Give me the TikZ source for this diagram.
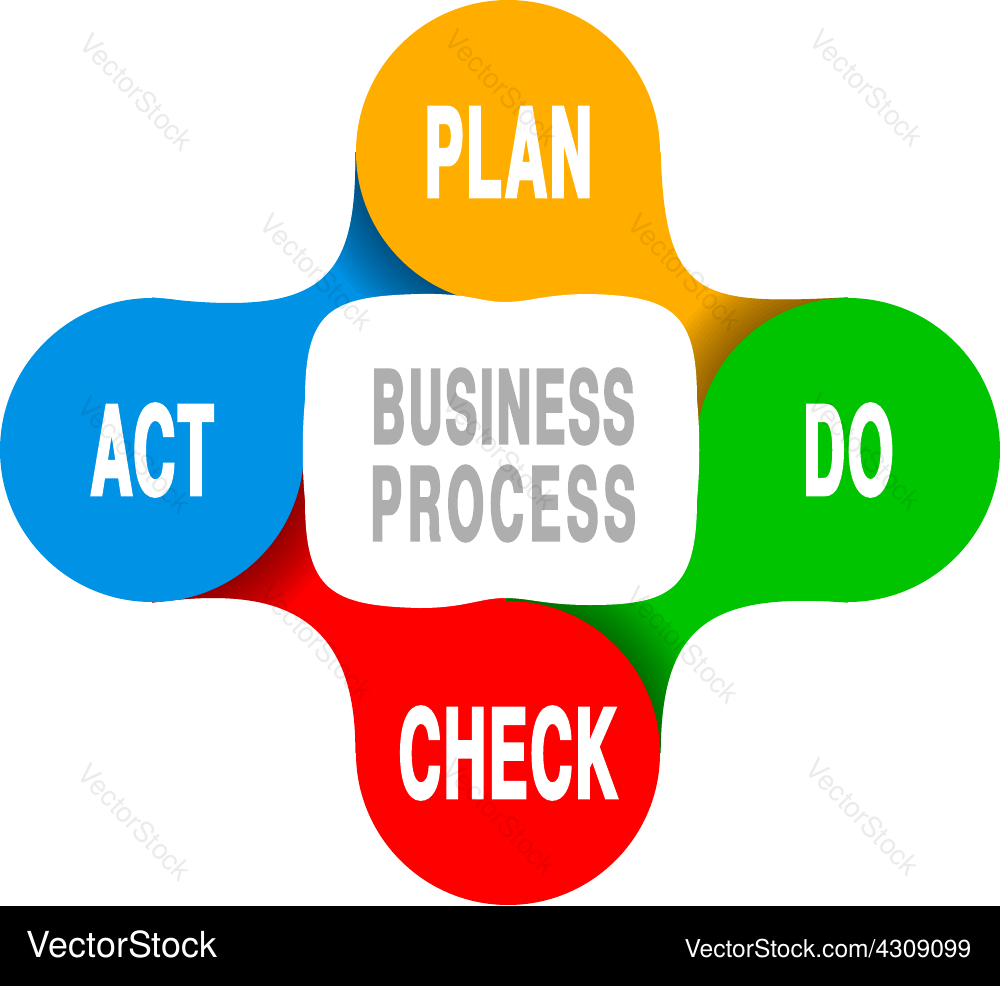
\documentclass[tikz,border=0pt]{standalone}
\usepackage{fontspec}
\setmainfont{TeX Gyre Heros}
\newfontfamily\pdcafont{TeX Gyre Heros}[FakeStretch=0.47,FakeBold=2.5,LetterSpace=2.5]
\newfontfamily\bpfont{TeX Gyre Heros}[FakeStretch=0.46,FakeBold=2.5,LetterSpace=3.6]
\usetikzlibrary{calc}
\pgfdeclarelayer{bg}
\pgfsetlayers{bg,main}
\definecolor{planorange}{RGB}{255,174,0}
\definecolor{dogreen}{RGB}{0,196,0}
\definecolor{checkred}{RGB}{254,0,0}
\definecolor{actblue}{RGB}{0,146,229}
\definecolor{bpgrey}{RGB}{174,174,174}
\tikzset{
  phase/.style={circle, minimum size=30.4mm, inner sep=0pt, text=white,
    font=\pdcafont\bfseries\fontsize{35}{35}\selectfont},
  watermark/.style={rotate=-46, text=black, opacity=0.08,
    font=\fontsize{8}{8}\selectfont},
}

\begin{document}
\begin{tikzpicture}[x=0.1mm, y=-0.1mm]
  \useasboundingbox (0,0) rectangle (1000,986);
  \node[phase, fill=planorange] (plan) at (508,152) {PLAN};
  \node[phase, fill=dogreen] (do) at (848,450) {DO};
  \node[phase, fill=checkred] (check) at (508,753) {CHECK};
  \node[phase, fill=actblue] (act) at (152,450) {ACT};
  \fill[white] (305,500) .. controls (302,470) and (302,430) .. (305,400)
    .. controls (305,310) and (330,296) .. (420,294)
    .. controls (470,293) and (480,302) .. (505,302) .. controls (530,302) and (545,294) .. (590,294)
    .. controls (675,296) and (697,315) .. (697,400) .. controls (700,430) and (700,470) .. (697,500)
    .. controls (697,590) and (670,605) .. (590,605)
    .. controls (545,605) and (530,598) .. (505,598) .. controls (480,598) and (465,608) .. (420,608)
    .. controls (330,606) and (305,590) .. (305,500) -- cycle;
  \node[text=bpgrey, align=center, inner sep=0pt,
    font=\bpfont\bfseries\fontsize{28.7}{27.6}\selectfont] (bp) at (503,455)
    {BUSINESS\\\addfontfeature{LetterSpace=6.3}PROCESS};
  \def\acttail{(act.center) -- (act.north) .. controls (320,318) and (357,285) .. (plan.west)
    -- (plan.center) -- (bp.center) -- cycle}
  \def\plantail{(plan.center) -- (plan.east) .. controls (665,300) and (700,305) .. (do.north)
    -- (do.center) -- (bp.center) -- cycle}
  \def\dotail{(do.center) -- (do.south) .. controls (710,592) and (661,625) .. (check.east)
    -- (check.center) -- (bp.center) -- cycle}
  \def\checktail{(check.center) -- (check.west) .. controls (357,600) and (260,588) .. (act.south)
    -- (act.center) -- (bp.center) -- cycle}
  \begin{pgfonlayer}{bg}
    \fill[actblue] \acttail;
    \fill[planorange] \plantail;
    \fill[dogreen] \dotail;
    \fill[checkred] \checktail;
    \begin{scope}
      \clip \acttail;
      \foreach \r in {154,158,...,206} \fill[black, opacity=0.035] (plan.center) circle (\r);
    \end{scope}
    \begin{scope}
      \clip \plantail;
      \foreach \r in {154,158,...,206} \fill[black, opacity=0.035] (do.center) circle (\r);
    \end{scope}
    \begin{scope}
      \clip \dotail;
      \foreach \r in {154,158,...,206} \fill[black, opacity=0.035] (check.center) circle (\r);
    \end{scope}
    \begin{scope}
      \clip \checktail;
      \foreach \r in {154,158,...,206} \fill[black, opacity=0.035] (act.center) circle (\r);
    \end{scope}
  \end{pgfonlayer}
  \fill[black] (0,906) rectangle (1000,986);
  \node[text=white, anchor=base west, inner sep=0pt, font=\fontsize{10.2}{10}\selectfont] (vs) at (26,957) {VectorStock};
  \node[text=white, anchor=base east, inner sep=0pt, font=\fontsize{7}{7}\selectfont] (vsid) at (972,957) {VectorStock.com/4309099};
  \foreach \x/\y [count=\i] in {137/92, 502/88, 867/88, 317/272, 685/272, 135/455, 500/452, 865/452,
    317/642, 683/645, 135/822, 500/817, 863/817}
    \node[watermark] (wm\i) at (\x,\y) {VectorStock};
\end{tikzpicture}
\end{document}
